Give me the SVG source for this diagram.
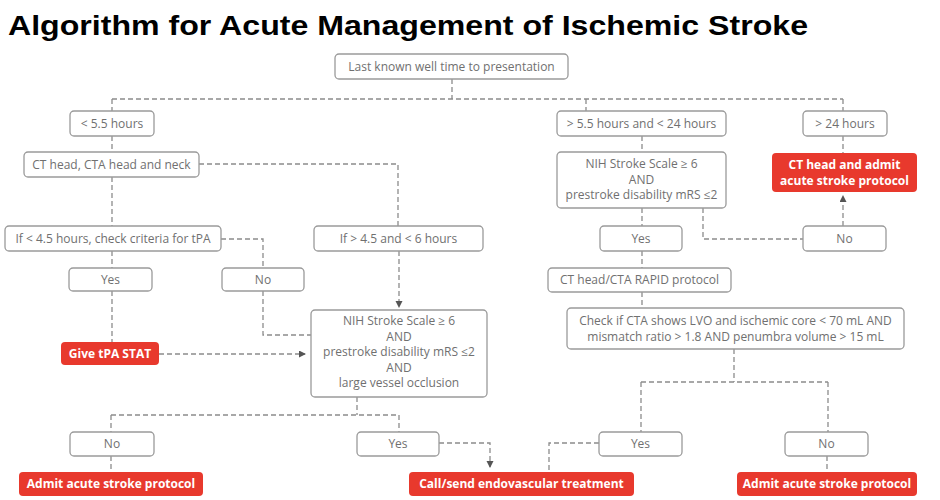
<svg xmlns="http://www.w3.org/2000/svg" width="940" height="500" viewBox="0 0 940 500">
<style>
.bg{fill:#ffffff}
.title{font-family:"Liberation Sans",Arial,sans-serif;font-weight:bold;font-size:27px;fill:#000}
.box{fill:#ffffff;stroke:#9a9a9a;stroke-width:1.3}
.red{fill:#e8392d;stroke:none}
.t{font-family:"Open Sans","Lato",sans-serif;font-size:12px;fill:#707070;text-anchor:middle}
.tw{font-family:"Open Sans","Lato",sans-serif;font-size:12px;font-weight:bold;fill:#ffffff;text-anchor:middle}
.c{fill:none;stroke:#8c8c8c;stroke-width:1.3;stroke-dasharray:5 3}
</style>
<defs>
<marker id="arr" markerUnits="userSpaceOnUse" markerWidth="8" markerHeight="8" refX="6" refY="3.5" orient="auto">
<path d="M0,0 L7,3.5 L0,7 z" fill="#555"/>
</marker>
</defs>
<rect class="bg" x="0" y="0" width="940" height="500"/>
<text class="title" x="8" y="35" textLength="800" lengthAdjust="spacingAndGlyphs">Algorithm  for Acute Management of Ischemic Stroke</text>

<g id="connectors">
<path class="c" d="M452,79 V99 M112,99 H843 M112,99 V111 M586,99 V111 M843,99 V111"/>
<path class="c" d="M112,136 V152"/>
<path class="c" d="M199,164 H398 V226"/>
<path class="c" d="M112,177 V226"/>
<path class="c" d="M221,239 H263 V268"/>
<path class="c" d="M112,251 V268"/>
<path class="c" d="M112,291 V342"/>
<path class="c" d="M263,291 V335 H311"/>
<path class="c" d="M159,354 H305" marker-end="url(#arr)"/>
<path class="c" d="M399,251 V307" marker-end="url(#arr)"/>
<path class="c" d="M357,397 V415 M111,415 H399 M111,415 V432 M399,415 V432"/>
<path class="c" d="M111,456 V472"/>
<path class="c" d="M439,443 H490 V467" marker-end="url(#arr)"/>
<path class="c" d="M599,443 H549 V472"/>
<path class="c" d="M642,136 V152"/>
<path class="c" d="M843,136 V153"/>
<path class="c" d="M642,208 V226"/>
<path class="c" d="M703,208 V239 H803"/>
<path class="c" d="M843,226 V196" marker-end="url(#arr)"/>
<path class="c" d="M642,251 V268"/>
<path class="c" d="M642,292 V308"/>
<path class="c" d="M734,349 V382 M641,382 H828 M641,382 V432 M828,382 V432"/>
<path class="c" d="M827,456 V472"/>
</g>

<g id="n1"><rect class="box" x="335" y="54" width="233" height="25" rx="4"/><text class="t" x="451.5" y="70.5">Last known well time to presentation</text></g>
<g id="n2"><rect class="box" x="70" y="111" width="84" height="25" rx="4"/><text class="t" x="112" y="127.5">&lt; 5.5 hours</text></g>
<g id="n3"><rect class="box" x="557" y="111" width="169" height="25" rx="4"/><text class="t" x="641.5" y="127.5">&gt; 5.5 hours and &lt; 24 hours</text></g>
<g id="n4"><rect class="box" x="803" y="111" width="84" height="25" rx="4"/><text class="t" x="845" y="127.5">&gt; 24 hours</text></g>
<g id="n5"><rect class="box" x="24" y="152" width="175" height="25" rx="4"/><text class="t" x="111.5" y="168.5">CT head, CTA head and neck</text></g>
<g id="n6"><rect class="box" x="557" y="152" width="169" height="56" rx="4"/><text class="t"><tspan x="641.5" y="168">NIH Stroke Scale ≥ 6</tspan><tspan x="641.5" y="183.5">AND</tspan><tspan x="641.5" y="199">prestroke disability mRS ≤2</tspan></text></g>
<g id="n7"><rect class="red" x="772" y="153" width="145" height="39" rx="4"/><text class="tw"><tspan x="844.5" y="168.5">CT head and admit</tspan><tspan x="844.5" y="184.5">acute stroke protocol</tspan></text></g>
<g id="n8"><rect class="box" x="5" y="226" width="216" height="25" rx="4"/><text class="t" x="113" y="242.5">If &lt; 4.5 hours, check criteria for tPA</text></g>
<g id="n9"><rect class="box" x="314" y="226" width="169" height="25" rx="4"/><text class="t" x="398.5" y="242.5">If &gt; 4.5 and &lt; 6 hours</text></g>
<g id="n10"><rect class="box" x="600" y="226" width="82" height="25" rx="4"/><text class="t" x="641" y="242.5">Yes</text></g>
<g id="n11"><rect class="box" x="803" y="226" width="83" height="25" rx="4"/><text class="t" x="844.5" y="242.5">No</text></g>
<g id="n12"><rect class="box" x="69" y="268" width="83" height="23" rx="4"/><text class="t" x="110.5" y="283.5">Yes</text></g>
<g id="n13"><rect class="box" x="222" y="268" width="82" height="23" rx="4"/><text class="t" x="263" y="283.5">No</text></g>
<g id="n14"><rect class="box" x="548" y="268" width="183" height="24" rx="4"/><text class="t" x="639.5" y="284">CT head/CTA RAPID protocol</text></g>
<g id="n15"><rect class="box" x="311" y="310" width="176" height="87" rx="4"/><text class="t"><tspan x="399" y="325">NIH Stroke Scale ≥ 6</tspan><tspan x="399" y="340.5">AND</tspan><tspan x="399" y="356">prestroke disability mRS ≤2</tspan><tspan x="399" y="371.5">AND</tspan><tspan x="399" y="387">large vessel occlusion</tspan></text></g>
<g id="n16"><rect class="red" x="61" y="342" width="98" height="23" rx="4"/><text class="tw" x="110" y="357.5">Give tPA STAT</text></g>
<g id="n17"><rect class="box" x="567" y="308" width="337" height="41" rx="4"/><text class="t"><tspan x="735.5" y="325">Check if CTA shows LVO and ischemic core &lt; 70 mL AND</tspan><tspan x="735.5" y="341">mismatch ratio &gt; 1.8 AND penumbra volume &gt; 15 mL</tspan></text></g>
<g id="n18"><rect class="box" x="70" y="432" width="84" height="24" rx="4"/><text class="t" x="112" y="448">No</text></g>
<g id="n19"><rect class="box" x="357" y="432" width="82" height="24" rx="4"/><text class="t" x="398" y="448">Yes</text></g>
<g id="n20"><rect class="box" x="599" y="432" width="83" height="24" rx="4"/><text class="t" x="640.5" y="448">Yes</text></g>
<g id="n21"><rect class="box" x="785" y="432" width="83" height="24" rx="4"/><text class="t" x="826.5" y="448">No</text></g>
<g id="n22"><rect class="red" x="19" y="472" width="184" height="24" rx="4"/><text class="tw" x="111" y="488">Admit acute stroke protocol</text></g>
<g id="n23"><rect class="red" x="409" y="472" width="225" height="24" rx="4"/><text class="tw" x="521.5" y="488">Call/send endovascular treatment</text></g>
<g id="n24"><rect class="red" x="737" y="472" width="180" height="24" rx="4"/><text class="tw" x="827" y="488">Admit acute stroke protocol</text></g>
</svg>
